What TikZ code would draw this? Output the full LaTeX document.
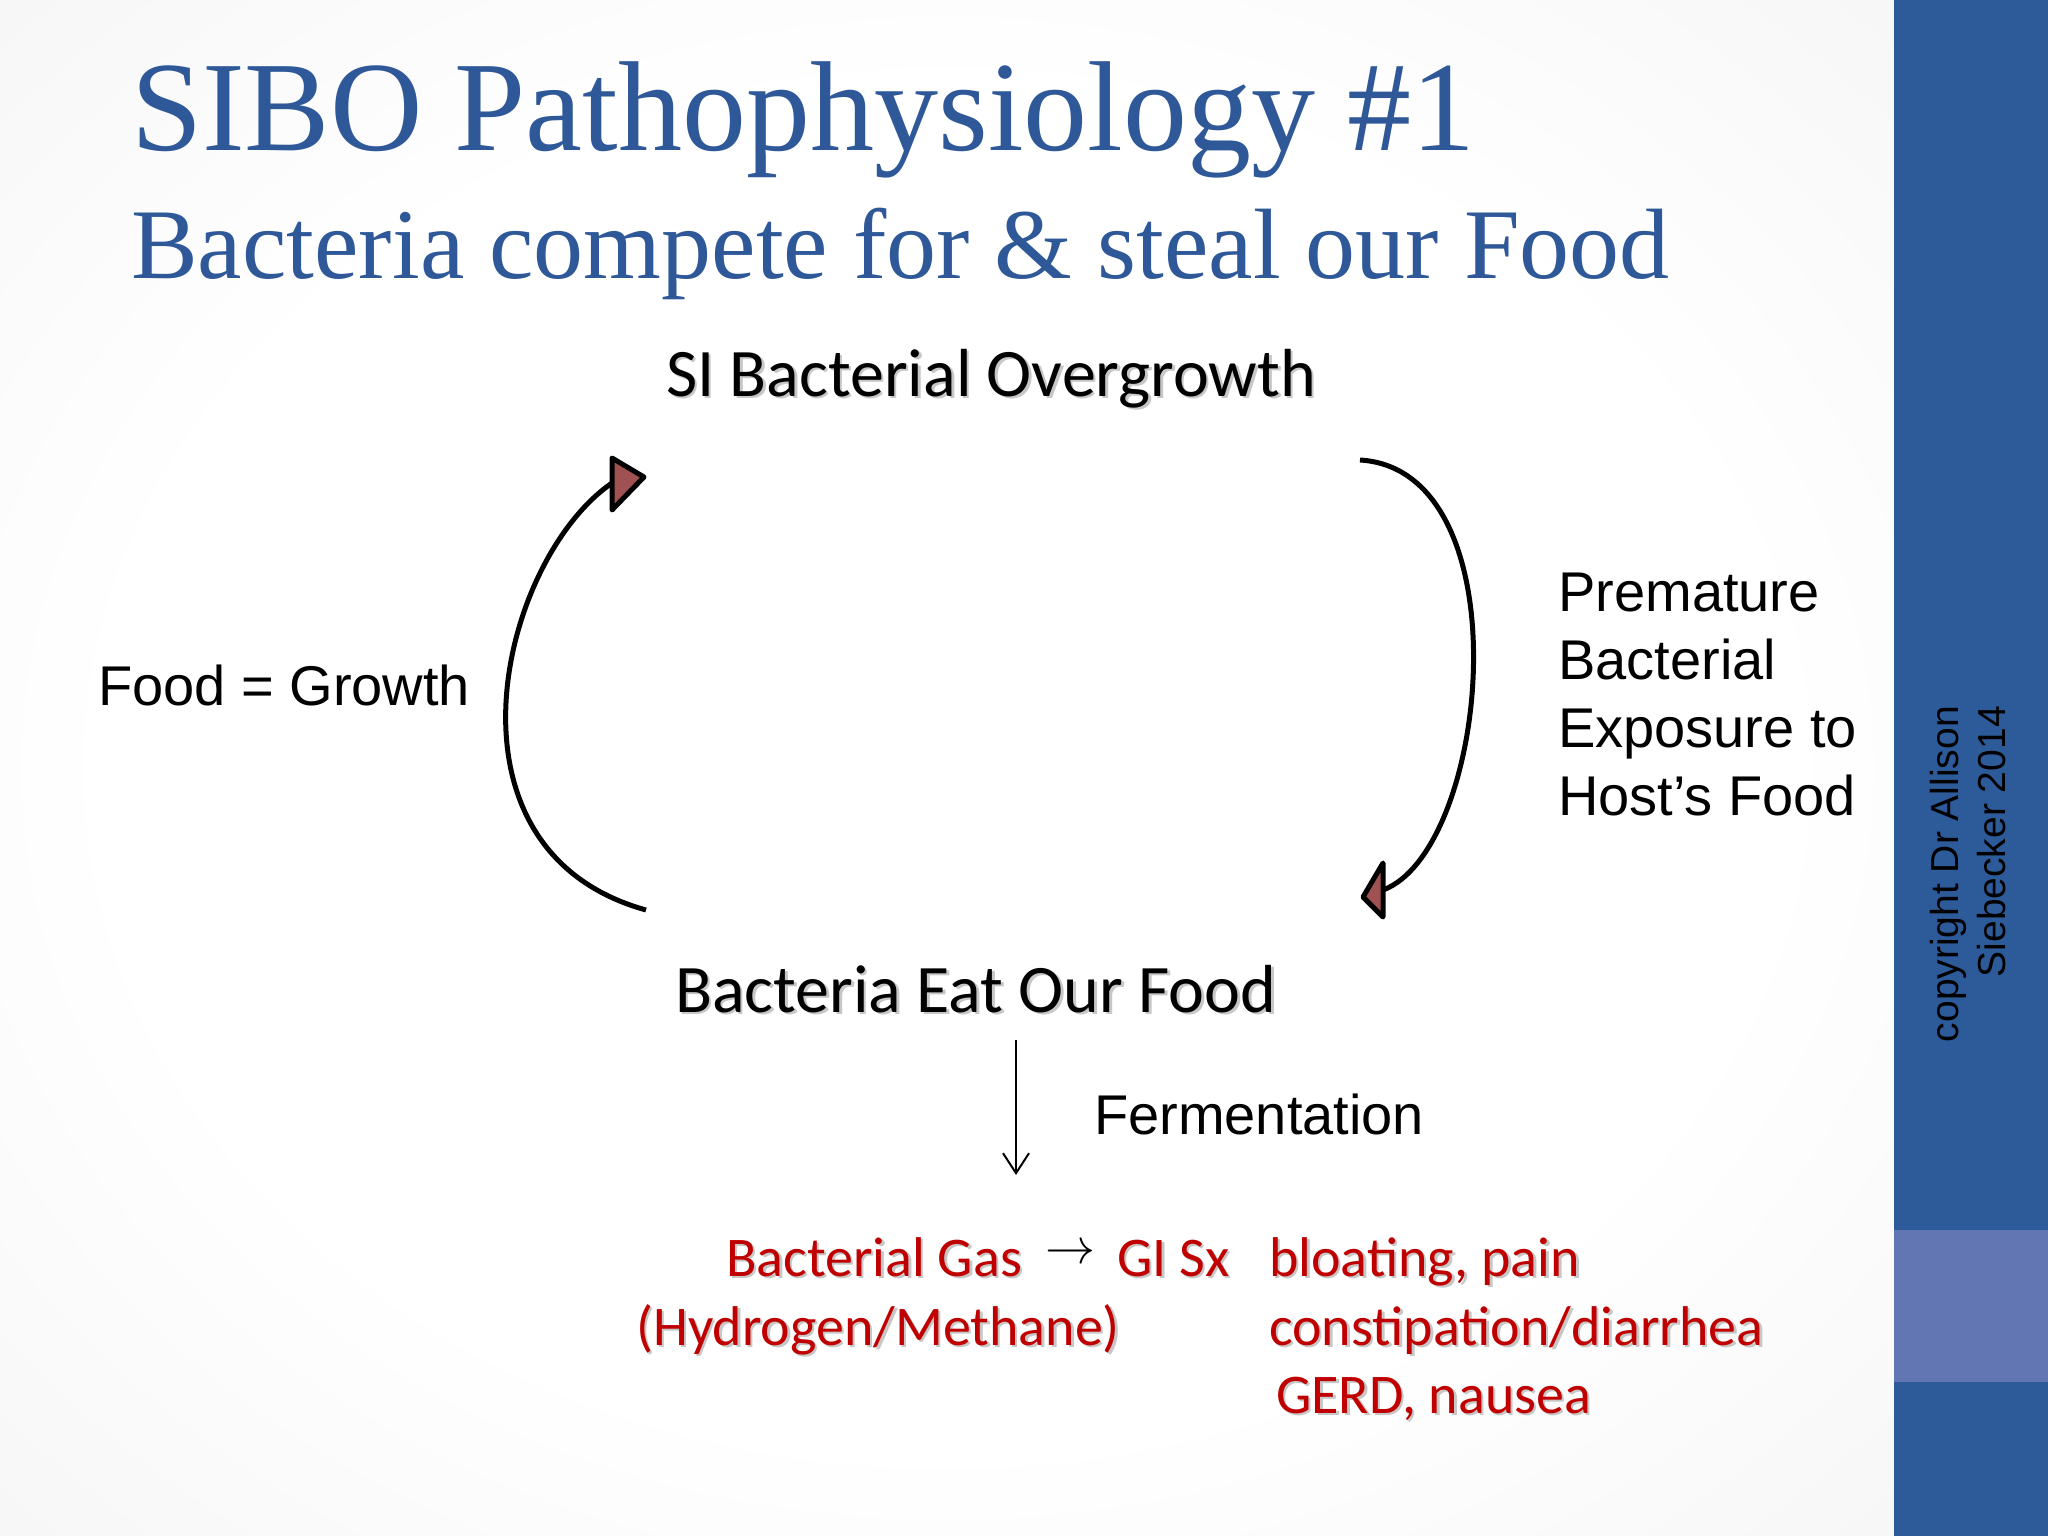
\RequirePackage{fix-cm}
\documentclass[tikz,border=0pt]{standalone}
\usepackage{fontspec}
\setmainfont{Liberation Sans}
\newfontfamily\serifhead{Liberation Serif}
\newfontfamily\calibri{Carlito}
\usetikzlibrary{arrows.meta}
\definecolor{titleblue}{RGB}{46,88,152}
\definecolor{barblue}{RGB}{45,90,152}
\definecolor{bandblue}{RGB}{98,118,180}
\definecolor{symred}{RGB}{192,0,0}
\definecolor{headfill}{RGB}{160,82,82}
\pgfdeclareradialshading{slidebg}{\pgfpoint{0bp}{0bp}}{color(0bp)=(white); color(22bp)=(white); color(72bp)=(black!12)}
\newcommand{\shadowed}[1]{\leavevmode\rlap{\kern2.5pt\raisebox{-2.5pt}{\color{black!22}#1}}#1}
\tikzstyle{heading} = [anchor=base west, inner sep=0, text=titleblue]
\tikzstyle{stage} = [anchor=base west, inner sep=0, font={\calibri\fontsize{68}{82}\selectfont}]
\tikzstyle{note} = [anchor=base west, inner sep=0, font={\fontsize{56}{68}\selectfont}]
\tikzstyle{symptom} = [anchor=base west, inner sep=0, text=symred, font={\calibri\fontsize{56}{68}\selectfont}]
\tikzstyle{cyclearrow} = [line width=5pt]
\tikzstyle{headtip} = [fill=headfill, draw=black, line width=5pt, line join=round]
\tikzstyle{flowarrow} = [line width=2pt, -{Straight Barb[length=20pt, width=26pt]}]

\begin{document}
\begin{tikzpicture}[x=1pt, y=-1pt]
        \useasboundingbox (0,0) rectangle (2048,1536);
        \shade[shading=slidebg] (0,0) rectangle (1894,1536);
        \fill[barblue] (1894,0) rectangle (2048,1536);
        \fill[bandblue] (1894,1230) rectangle (2048,1382);

        \node (title) [heading, font={\serifhead\fontsize{128}{150}\selectfont}] at (131,150) {SIBO Pathophysiology \#1};
        \node (subtitle) [heading, font={\serifhead\fontsize{100}{120}\selectfont}] at (131,278) {Bacteria compete for \& steal our Food};

        \node (overgrowth) [stage] at (666,396) {\shadowed{SI Bacterial Overgrowth}};
        \node (eat) [stage] at (675,1012) {\shadowed{Bacteria Eat Our Food}};
        \node (growth) [note] at (98,705) {Food = Growth};
        \node (exposure) [note, align=left] at (1558,815) {Premature\\Bacterial\\Exposure to\\Host’s Food};
        \node (ferment) [note] at (1094,1134) {Fermentation};

        \node (gas) [symptom] at (726,1276) {\shadowed{Bacterial Gas}};
        \node (gasarrow) [anchor=base west, inner sep=0, font={\fontsize{50}{60}\selectfont}] at (1045,1263) {$\rightarrow$};
        \node (gisx) [symptom] at (1117,1276) {\shadowed{GI Sx}};
        \node (bloat) [symptom] at (1269,1276) {\shadowed{bloating, pain}};
        \node (hydro) [symptom] at (636,1345) {\shadowed{(Hydrogen/Methane)}};
        \node (bowel) [symptom] at (1269,1345) {\shadowed{constipation/diarrhea}};
        \node (gerd) [symptom] at (1276,1413) {\shadowed{GERD, nausea}};

        \node (copyright) [rotate=90, anchor=south east, align=right, inner sep=0, font={\fontsize{39}{47}\selectfont}] at (2006,706) {copyright Dr Allison\\Siebecker 2014};

        % ends of the cycle arrows
        \coordinate (eatleft) at (646,910);
        \coordinate (overleft) at (612,483);
        \coordinate (overright) at (1360,460);
        \coordinate (eatright) at (1383,890);
        \coordinate (fermtop) at (1016,1040);
        \coordinate (fermend) at (1016,1175);

        \draw [cyclearrow] (eatleft) .. controls (430,850) and (500,560) .. (overleft);
        \draw [cyclearrow] (overright) .. controls (1525,470) and (1490,850) .. (eatright);
        \filldraw [headtip] (overleft) ++(0,-25) -- (644,477) -- (612,510) -- cycle;
        \filldraw [headtip] (eatright) ++(0,-27) -- (1363,897) -- (1383,917) -- cycle;
        \draw [flowarrow] (fermtop) -- (fermend);

    \end{tikzpicture}
\end{document}
